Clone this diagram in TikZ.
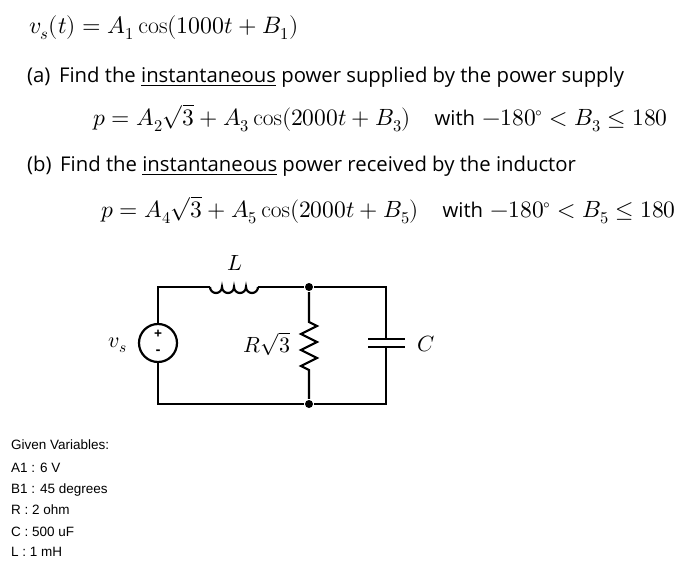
\documentclass[tikz,border=0pt]{standalone}
\usepackage{fontspec}
\usepackage{unicode-math}
\setmathfont{Latin Modern Math}
\setsansfont{Open Sans}
\newfontfamily\givenfont{Liberation Sans}
\begin{document}
\begin{tikzpicture}[x=1pt,y=-1pt,line width=2.2pt,
  txt/.style={anchor=west,inner sep=0pt,font=\fontsize{20.3}{24}\selectfont},
  given/.style={anchor=west,inner sep=0pt,font=\givenfont\fontsize{13.5}{15}\selectfont},
  lbl/.style={inner sep=0pt,font=\fontsize{22}{24}\selectfont},
  dot/.style={circle,fill,inner sep=0pt,minimum size=8pt}]
\useasboundingbox (0,0) rectangle (690,564);
\node[txt] (e1) at (28,28) {\fontsize{23.8}{26}\selectfont$v_s(t) = A_1\cos(1000t + B_1)$};
\node[txt] (ha) at (26,77) {\sffamily (a)\, Find the \underline{instantaneous} power supplied by the power supply};
\node[txt] (ea) at (92,118) {\fontsize{23.5}{26}\selectfont$p = A_2\sqrt{3} + A_3\cos(2000t + B_3)$\quad{\sffamily\fontsize{20.3}{24}\selectfont with} $-180^\circ < B_3 \le 180$};
\node[txt] (hb) at (26,166) {\sffamily (b)\, Find the \underline{instantaneous} power received by the inductor};
\node[txt] (eb) at (100,210) {\fontsize{23.5}{26}\selectfont$p = A_4\sqrt{3} + A_5\cos(2000t + B_5)$\quad{\sffamily\fontsize{20.3}{24}\selectfont with} $-180^\circ < B_5 \le 180$};
% circuit
\coordinate (tl) at (158,287); \coordinate (bl) at (158,404);
\node[dot] (nt) at (309,287) {}; \node[dot] (nb) at (309,404) {};
\coordinate (tr) at (386,287); \coordinate (br) at (386,404);
\node[circle,draw,minimum size=38pt,inner sep=0pt,line width=2.2pt] (src) at (158,343) {};
\node[font=\sffamily\bfseries\fontsize{14}{14}\selectfont,inner sep=0pt] (plus) at (158,334) {+};
\node[font=\sffamily\bfseries\fontsize{14}{14}\selectfont,inner sep=0pt] (minus) at (158,352) {-};
\draw (src.north) -- (tl) -- (210,287);
\draw (210,287) arc[start angle=180,end angle=0,radius=6] arc[start angle=180,end angle=0,radius=6] arc[start angle=180,end angle=0,radius=6] arc[start angle=180,end angle=0,radius=6];
\draw (258,287) -- (nt) -- (tr) -- (386,339);
\draw (368,339) -- (405,339); \draw (368,347) -- (405,347);
\draw (386,347) -- (br) -- (nb) -- (bl) -- (src.south);
\draw[line join=miter] (nt) -- (309,322) -- (317,326) -- (301,334) -- (317,342) -- (301,350) -- (317,358) -- (301,366) -- (309,370) -- (nb);
\node[lbl] (lL) at (235,263) {$L$};
\node[lbl] (lvs) at (118,345) {$v_s$};
\node[lbl] (lR) at (267,344) {$R\sqrt{3}$};
\node[lbl] (lC) at (426,344) {$C$};
\node[given] (g0) at (10,445) {Given Variables:};
\node[given] (g1) at (10,468) {A1 : 6 V};
\node[given] (g2) at (10,490) {B1 : 45 degrees};
\node[given] (g3) at (10,510) {R : 2 ohm};
\node[given] (g4) at (10,532) {C : 500 uF};
\node[given] (g5) at (10,552) {L : 1 mH};
\end{tikzpicture}
\end{document}
